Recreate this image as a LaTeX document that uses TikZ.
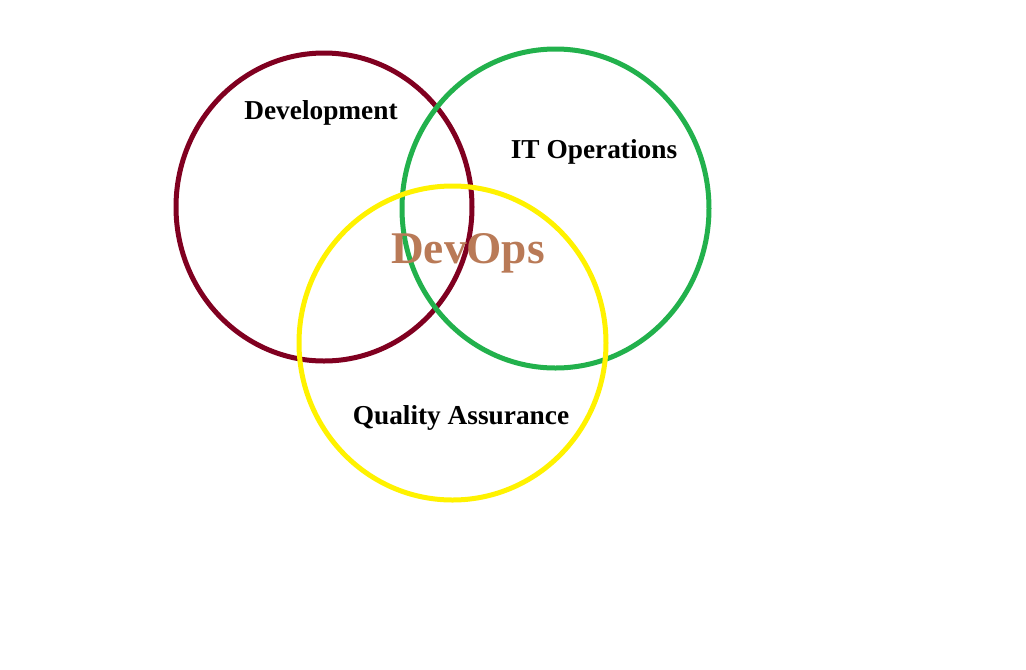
\documentclass[tikz,border=0pt]{standalone}
\usepackage{fontspec}
\setmainfont{Liberation Serif}
\usetikzlibrary{shapes.geometric,positioning}
\definecolor{devred}{RGB}{128,0,32}
\definecolor{opsgreen}{RGB}{34,177,76}
\definecolor{qayellow}{RGB}{255,242,0}
\definecolor{devbrown}{RGB}{185,122,87}

\begin{document}
\begin{tikzpicture}[x=0.75pt,y=-0.75pt,inner sep=0pt,outer sep=0pt]
\tikzstyle{ring}=[ellipse,line width=3.75pt]
\tikzstyle{label}=[font=\fontsize{20.5}{24}\selectfont\bfseries,text=black,anchor=base]
\tikzstyle{center_label}=[font=\fontsize{34}{38}\selectfont\bfseries,text=devbrown,anchor=base]

\useasboundingbox (0,0) rectangle (1026,669);

\node[ring, draw=devred, minimum width=222pt, minimum height=231pt] (dev) at (324,207) {};
\node[ring, draw=opsgreen, minimum width=230.25pt, minimum height=239.25pt] (ops) at (555.5,208.5) {};
\node[ring, draw=qayellow, minimum width=230.25pt, minimum height=235.5pt] (qa) at (452.5,343) {};

\node[label] (dev_text) at (321,119) {Development};
\node[label] (ops_text) at (594,158) {IT Operations};
\node[label] (qa_text) at (461,424) {Quality Assurance};
\node[center_label] (devops_text) at (468,263) {DevOps};
\end{tikzpicture}
\end{document}
